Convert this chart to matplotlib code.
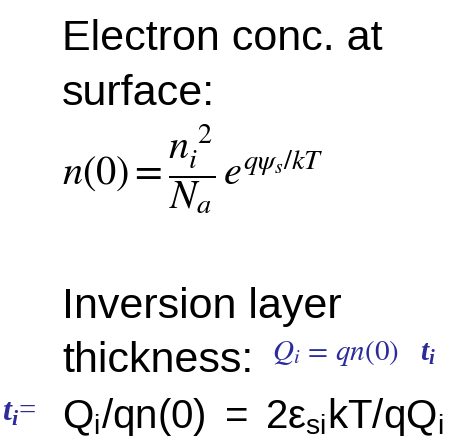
import matplotlib
matplotlib.use("Agg")
import matplotlib.pyplot as plt

plt.rcParams['mathtext.fontset'] = 'custom'
plt.rcParams['mathtext.rm'] = 'Liberation Sans'
plt.rcParams['mathtext.it'] = 'Liberation Sans'
plt.rcParams['mathtext.sf'] = 'Liberation Sans'

W, H = 470, 448
lines = ["Electron conc. at", "surface:", "Inversion layer", "thickness:"]
baselines = [50, 105, 318, 372]

fig = plt.figure(figsize=(4.7, 4.48), dpi=100)
fig.patch.set_facecolor('white')

def T(x, y, s, **kw):
    fig.text(x / W, 1 - y / H, s, va='baseline', ha='left', **kw)

for s, y in zip(lines, baselines):
    T(62, y, s, fontsize=31, family='Liberation Sans')

T(62, 185, r'$n(0)=\dfrac{n_i^{\ 2}}{N_a}\,e^{q\psi_s/kT}$', fontsize=29, math_fontfamily='stix')
T(272, 360, r'$Q_i\,=\,qn(0)$', fontsize=21, color='#2b2b9a', math_fontfamily='stix')
T(420, 360, 't', fontsize=21, color='#2b2b9a', family='Liberation Serif', style='italic', weight='bold')
T(428, 364, 'i', fontsize=15, color='#2b2b9a', family='Liberation Serif', style='italic', weight='bold')
T(2, 420, 't', fontsize=23, color='#2b2b9a', family='Liberation Serif', style='italic', weight='bold')
T(11, 425, 'i', fontsize=16, color='#2b2b9a', family='Liberation Serif', style='italic', weight='bold')
T(18, 420, '=', fontsize=22, color='#2b2b9a', family='Liberation Serif')
T(62, 428, r'$\mathrm{Q_i/qn(0)\ =\ 2}\varepsilon_{\mathrm{si}}\mathrm{kT/qQ_i}$', fontsize=29)

fig.savefig('out.png', dpi=100)
